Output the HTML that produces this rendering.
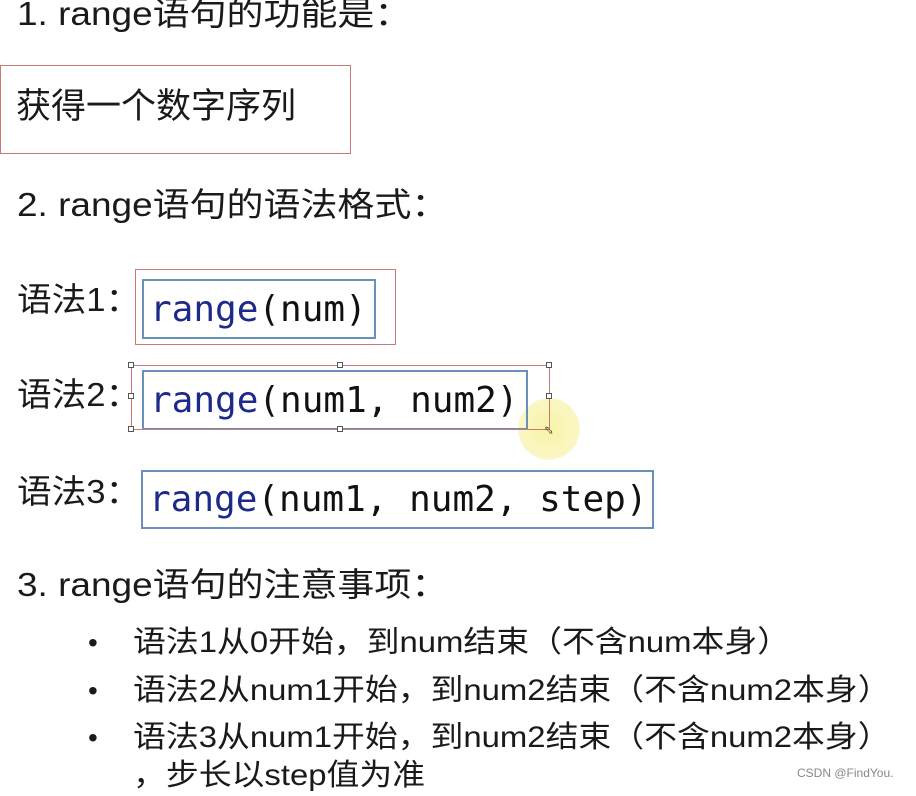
<!DOCTYPE html>
<html><head><meta charset="utf-8"><style>
body{margin:0;width:916px;height:789px;background:#fff;position:relative;overflow:hidden;font-family:"Liberation Sans","Noto Sans CJK SC",sans-serif;color:#1a1a1a}
.t{position:absolute;white-space:nowrap;line-height:40px;transform-origin:left center}
.h{font-size:33px;transform:scaleX(1.12)}
.l{font-size:33px;transform:scaleX(1.05)}
.b{font-size:30px;transform:scaleX(1.095)}
.box{position:absolute;box-sizing:border-box}
.red{border:1.5px solid #c77a78}
.blue{border:2px solid #6a8fb8}
.code{position:absolute;white-space:nowrap;font-family:"DejaVu Sans Mono","Liberation Mono",monospace;font-size:36px;line-height:40px;color:#111}
.code .k{color:#1e2a8a}
.hd{position:absolute;width:6px;height:6px;border:1px solid #555;background:#fff;box-sizing:border-box}
</style></head><body>
<div style="position:absolute;left:518px;top:398px;width:62px;height:62px;border-radius:50%;background:radial-gradient(circle,#f8f3a8 0%,#faf6c0 60%,#fdfbe6 100%)"></div>

<div class="t h" style="left:17px;top:-6px">1. range语句的功能是：</div>
<div class="box red" style="left:0;top:65px;width:351px;height:89px"></div>
<div class="t" style="left:16px;top:87px;font-size:35px">获得一个数字序列</div>

<div class="t h" style="left:17px;top:185px">2. range语句的语法格式：</div>

<div class="t l" style="left:17px;top:280px">语法1：</div>
<div class="box red" style="left:135px;top:269px;width:261px;height:76px"></div>
<div class="box blue" style="left:142px;top:279px;width:234px;height:60px"></div>
<div class="code" style="left:150px;top:290px"><span class="k">range</span>(num)</div>

<div class="t l" style="left:17px;top:375px">语法2：</div>
<div class="box blue" style="left:142px;top:370px;width:386px;height:60px"></div>
<div class="box red" style="left:131px;top:365px;width:419px;height:65px"></div>
<div class="code" style="left:150px;top:381px"><span class="k">range</span>(num1, num2)</div>
<div class="hd" style="left:128px;top:362px"></div>
<div class="hd" style="left:337px;top:362px"></div>
<div class="hd" style="left:546px;top:362px"></div>
<div class="hd" style="left:128px;top:393px"></div>
<div class="hd" style="left:546px;top:393px"></div>
<div class="hd" style="left:128px;top:426px"></div>
<div class="hd" style="left:337px;top:426px"></div>
<div style="position:absolute;left:541px;top:421px;font-size:16px;color:#333;transform:rotate(45deg)">⇔</div>

<div class="t l" style="left:17px;top:472px">语法3：</div>
<div class="box blue" style="left:141px;top:470px;width:513px;height:59px"></div>
<div class="code" style="left:149px;top:480px"><span class="k">range</span>(num1, num2, step)</div>

<div class="t h" style="left:17px;top:565px">3. range语句的注意事项：</div>
<div class="t" style="left:88px;top:623px;font-size:28px">•</div>
<div class="t b" style="left:133px;top:623px">语法1从0开始，到num结束（不含num本身）</div>
<div class="t" style="left:88px;top:671px;font-size:28px">•</div>
<div class="t b" style="left:133px;top:671px">语法2从num1开始，到num2结束（不含num2本身）</div>
<div class="t" style="left:88px;top:718px;font-size:28px">•</div>
<div class="t b" style="left:133px;top:718px">语法3从num1开始，到num2结束（不含num2本身）</div>
<div class="t b" style="left:133px;top:756px">，步长以step值为准</div>
<div class="t" style="left:797px;top:753px;font-size:12px;color:#888">CSDN @FindYou.</div>
</body></html>
